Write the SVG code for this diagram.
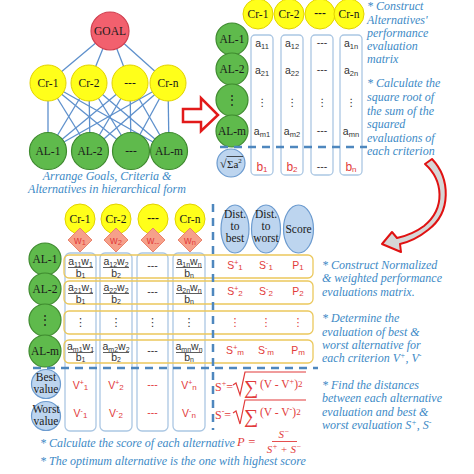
<svg xmlns="http://www.w3.org/2000/svg" width="474" height="474" viewBox="0 0 474 474">
<style>
.bt{font-family:"Liberation Serif",serif;font-style:italic;fill:#3d8ac6;font-size:12px}
.nl{font-family:"Liberation Serif",serif;font-size:11.5px;fill:#1a1a1a;text-anchor:middle}
.yel{fill:#ffff1a;stroke:#e2d200;stroke-width:1}
.grn{fill:#5fba4c;stroke:#3e8a2e;stroke-width:1.2}
.gl{fill:#f2606e;stroke:#cf3f4f;stroke-width:1.2}
.lb{fill:#bdd5ef;stroke:#6c9bcf;stroke-width:1.2}
.v{font-family:"Liberation Sans",sans-serif;font-size:10.5px;fill:#333;text-anchor:middle}
.r{fill:#e23b3b}
.col{fill:#fff;stroke:#abc7e3;stroke-width:1.3}
.row{fill:none;stroke:#ebc85c;stroke-width:1.3}
.dash{stroke:#4e87be;stroke-width:2.5;stroke-dasharray:8 6;fill:none}
.conn{stroke:#5e90cc;stroke-width:1.3}
.dia{fill:#f6a08a;stroke:#e9836c;stroke-width:1}
.fl{stroke:#333;stroke-width:0.8}
.rf{font-family:"Liberation Serif",serif;fill:#e23b3b}
</style>

<!-- connectors of hierarchy -->
<g id="connectors">
<line class="conn" x1="110" y1="31" x2="48" y2="83"/>
<line class="conn" x1="110" y1="31" x2="89" y2="83"/>
<line class="conn" x1="110" y1="31" x2="130" y2="83"/>
<line class="conn" x1="110" y1="31" x2="168" y2="83"/>
<line class="conn" x1="48" y1="83" x2="48" y2="151"/>
<line class="conn" x1="48" y1="83" x2="90" y2="151"/>
<line class="conn" x1="48" y1="83" x2="131" y2="151"/>
<line class="conn" x1="48" y1="83" x2="169" y2="151"/>
<line class="conn" x1="89" y1="83" x2="48" y2="151"/>
<line class="conn" x1="89" y1="83" x2="90" y2="151"/>
<line class="conn" x1="89" y1="83" x2="131" y2="151"/>
<line class="conn" x1="89" y1="83" x2="169" y2="151"/>
<line class="conn" x1="130" y1="83" x2="48" y2="151"/>
<line class="conn" x1="130" y1="83" x2="90" y2="151"/>
<line class="conn" x1="130" y1="83" x2="131" y2="151"/>
<line class="conn" x1="130" y1="83" x2="169" y2="151"/>
<line class="conn" x1="168" y1="83" x2="48" y2="151"/>
<line class="conn" x1="168" y1="83" x2="90" y2="151"/>
<line class="conn" x1="168" y1="83" x2="131" y2="151"/>
<line class="conn" x1="168" y1="83" x2="169" y2="151"/>
</g>

<!-- hierarchy nodes -->
<g id="goal"><circle class="gl" cx="110" cy="31" r="19"/><text class="nl" x="110" y="35" font-size="11">GOAL</text></g>
<g id="h-cr1"><circle class="yel" cx="48" cy="83" r="18"/><text class="nl" x="48" y="87">Cr-1</text></g>
<g id="h-cr2"><circle class="yel" cx="89" cy="83" r="18"/><text class="nl" x="89" y="87">Cr-2</text></g>
<g id="h-cr3"><circle class="yel" cx="130" cy="83" r="18"/><text class="nl" x="130" y="86">---</text></g>
<g id="h-crn"><circle class="yel" cx="168" cy="83" r="18"/><text class="nl" x="168" y="87">Cr-n</text></g>
<g id="h-al1"><circle class="grn" cx="48" cy="151" r="18.5"/><text class="nl" x="48" y="155">AL-1</text></g>
<g id="h-al2"><circle class="grn" cx="90" cy="151" r="18.5"/><text class="nl" x="90" y="155">AL-2</text></g>
<g id="h-al3"><circle class="grn" cx="131" cy="151" r="18.5"/><text class="nl" x="131" y="154">---</text></g>
<g id="h-alm"><circle class="grn" cx="169" cy="151" r="18.5"/><text class="nl" x="169" y="155">AL-m</text></g>
<text class="bt" x="107" y="180" text-anchor="middle" font-size="11.5">Arrange Goals, Criteria &amp;</text>
<text class="bt" x="107" y="193" text-anchor="middle" font-size="11.5">Alternatives in hierarchical form</text>

<!-- block arrow -->
<g id="arrow1"><path d="M183,109 H201 V98 L218,115 L201,131 V122 H183 Z" fill="#fff" stroke="#e21a1a" stroke-width="2.5" stroke-linejoin="miter"/></g>

<!-- top matrix -->
<g id="top-matrix">
<rect class="col" x="251" y="35" width="22" height="140" rx="4"/>
<rect class="col" x="281" y="35" width="22" height="140" rx="4"/>
<rect class="col" x="311" y="35" width="22" height="140" rx="4"/>
<rect class="col" x="340" y="35" width="22" height="140" rx="4"/>
</g>
<g id="t-cr1"><circle class="yel" cx="258" cy="14" r="15"/><text class="nl" x="258" y="18" font-size="11">Cr-1</text></g>
<g id="t-cr2"><circle class="yel" cx="289" cy="14" r="15"/><text class="nl" x="289" y="18" font-size="11">Cr-2</text></g>
<g id="t-cr3"><circle class="yel" cx="320" cy="14" r="15"/><text class="nl" x="320" y="17" font-size="11" font-weight="bold">---</text></g>
<g id="t-crn"><circle class="yel" cx="349" cy="14" r="15"/><text class="nl" x="349" y="18" font-size="11">Cr-n</text></g>
<g id="t-al1"><circle class="grn" cx="232" cy="39" r="16"/><text class="nl" x="232" y="43" font-size="11">AL-1</text></g>
<g id="t-al2"><circle class="grn" cx="232" cy="69" r="16"/><text class="nl" x="232" y="73" font-size="11">AL-2</text></g>
<g id="t-al3"><circle class="grn" cx="232" cy="100" r="16"/><text class="nl" x="232" y="104" font-family="DejaVu Sans">⋮</text></g>
<g id="t-alm"><circle class="grn" cx="232" cy="131" r="16"/><text class="nl" x="232" y="135" font-size="11">AL-m</text></g>
<g id="t-sqrt"><ellipse class="lb" cx="231" cy="163" rx="14" ry="14"/>
<text x="220" y="168" font-family="Liberation Serif,serif" font-size="12" fill="#222">√</text>
<line x1="226.5" y1="156.5" x2="243" y2="156.5" stroke="#222" stroke-width="0.8"/>
<text x="227" y="168" font-family="Liberation Serif,serif" font-size="11" fill="#222">Σa<tspan font-size="7" dy="-5">2</tspan></text></g>

<g id="top-values" class="v">
<text x="262" y="47">a<tspan font-size="7.5" dy="2">11</tspan></text>
<text x="292" y="47">a<tspan font-size="7.5" dy="2">12</tspan></text>
<text x="322" y="46">---</text>
<text x="351" y="47">a<tspan font-size="7.5" dy="2">1n</tspan></text>
<text x="262" y="74">a<tspan font-size="7.5" dy="2">21</tspan></text>
<text x="292" y="74">a<tspan font-size="7.5" dy="2">22</tspan></text>
<text x="322" y="73">---</text>
<text x="351" y="74">a<tspan font-size="7.5" dy="2">2n</tspan></text>
<text x="262" y="106" font-family="DejaVu Sans">⋮</text>
<text x="292" y="106" font-family="DejaVu Sans">⋮</text>
<text x="322" y="106" font-family="DejaVu Sans">⋮</text>
<text x="351" y="106" font-family="DejaVu Sans">⋮</text>
<text x="262" y="135">a<tspan font-size="7.5" dy="2">m1</tspan></text>
<text x="292" y="135">a<tspan font-size="7.5" dy="2">m2</tspan></text>
<text x="322" y="134">---</text>
<text x="351" y="135">a<tspan font-size="7.5" dy="2">mn</tspan></text>
<text class="r" x="262" y="171" font-size="12">b<tspan font-size="8" dy="1">1</tspan></text>
<text class="r" x="292" y="171" font-size="12">b<tspan font-size="8" dy="1">2</tspan></text>
<text x="322" y="170">---</text>
<text class="r" x="351" y="171" font-size="12">b<tspan font-size="8" dy="1">n</tspan></text>
</g>
<line class="dash" x1="220" y1="147" x2="367" y2="147"/>

<g id="text-top">
<text class="bt" x="367" y="10">* Construct</text>
<text class="bt" x="367" y="24">Alternatives'</text>
<text class="bt" x="367" y="37">performance</text>
<text class="bt" x="367" y="50">evaluation</text>
<text class="bt" x="367" y="63">matrix</text>
<text class="bt" x="367" y="87">* Calculate the</text>
<text class="bt" x="367" y="101">square root of</text>
<text class="bt" x="367" y="115">the sum of the</text>
<text class="bt" x="367" y="128">squared</text>
<text class="bt" x="367" y="142">evaluations of</text>
<text class="bt" x="367" y="155">each criterion</text>
</g>

<!-- curved arrow -->
<g id="arrow2"><path d="M432,159 C450,178 452,212 428,230 C418,238 409,242 400,244 L401,252 L382,244 L392,232 L397,238 C406,236 416,232 424,226 C446,208 443,180 425,164 Z" fill="#d6d6d6" stroke="#e01212" stroke-width="2" stroke-linejoin="round"/></g>

<!-- lower matrix -->
<g id="low-cols">
<rect class="col" x="65" y="253" width="31" height="178" rx="5"/>
<rect class="col" x="100" y="253" width="32" height="178" rx="5"/>
<rect class="col" x="137" y="253" width="31" height="178" rx="5"/>
<rect class="col" x="173" y="253" width="32" height="178" rx="5"/>
</g>
<g id="low-rows">
<rect class="row" x="64" y="255" width="249" height="23" rx="5"/>
<rect class="row" x="64" y="281" width="249" height="23" rx="5"/>
<rect class="row" x="64" y="311" width="249" height="23" rx="5"/>
<rect class="row" x="64" y="340" width="249" height="23" rx="5"/>
</g>
<g id="l-cr1"><circle class="yel" cx="80" cy="219" r="15"/><text class="nl" x="80" y="223" font-size="11">Cr-1</text><path class="dia" d="M80,228 L92,240 L80,252 L68,240 Z"/><text class="v r" x="80" y="244">w<tspan font-size="7.5" dy="1">1</tspan></text></g>
<g id="l-cr2"><circle class="yel" cx="116" cy="219" r="15"/><text class="nl" x="116" y="223" font-size="11">Cr-2</text><path class="dia" d="M116,228 L128,240 L116,252 L104,240 Z"/><text class="v r" x="116" y="244">w<tspan font-size="7.5" dy="1">2</tspan></text></g>
<g id="l-cr3"><circle class="yel" cx="153" cy="219" r="15"/><text class="nl" x="153" y="222" font-size="11" font-weight="bold">---</text><path class="dia" d="M153,228 L165,240 L153,252 L141,240 Z"/><text class="v r" x="153" y="244">w<tspan font-size="7.5" dy="1">--</tspan></text></g>
<g id="l-crn"><circle class="yel" cx="190" cy="219" r="15"/><text class="nl" x="190" y="223" font-size="11">Cr-n</text><path class="dia" d="M190,228 L202,240 L190,252 L178,240 Z"/><text class="v r" x="190" y="244">w<tspan font-size="7.5" dy="1">n</tspan></text></g>
<g id="l-al1"><circle class="grn" cx="45" cy="259" r="16"/><text class="nl" x="45" y="263" font-size="11">AL-1</text></g>
<g id="l-al2"><circle class="grn" cx="45" cy="289" r="16"/><text class="nl" x="45" y="293" font-size="11">AL-2</text></g>
<g id="l-al3"><circle class="grn" cx="45" cy="320" r="16"/><text class="nl" x="45" y="324" font-family="DejaVu Sans">⋮</text></g>
<g id="l-alm"><circle class="grn" cx="45" cy="351" r="16"/><text class="nl" x="45" y="355" font-size="11">AL-m</text></g>
<g id="l-best"><circle class="lb" cx="46" cy="384" r="14.5"/><text class="nl" x="46" y="381" font-size="11">Best</text><text class="nl" x="46" y="393" font-size="11">value</text></g>
<g id="l-worst"><circle class="lb" cx="46" cy="416" r="14.5"/><text class="nl" x="46" y="413" font-size="11">Worst</text><text class="nl" x="46" y="425" font-size="11">value</text></g>
<g id="l-dbest"><ellipse class="lb" cx="235" cy="229" rx="14" ry="24"/><text class="nl" x="235" y="218" font-size="11">Dist.</text><text class="nl" x="235" y="230" font-size="11">to</text><text class="nl" x="235" y="242" font-size="11">best</text></g>
<g id="l-dworst"><ellipse class="lb" cx="266" cy="229" rx="14.5" ry="24"/><text class="nl" x="266" y="218" font-size="11">Dist.</text><text class="nl" x="266" y="230" font-size="11">to</text><text class="nl" x="266" y="242" font-size="11">worst</text></g>
<g id="l-score"><ellipse class="lb" cx="298.5" cy="229" rx="15" ry="24"/><text class="nl" x="298.5" y="233" font-size="11">Score</text></g>

<g id="low-values" class="v" font-size="10">
<text x="80.5" y="265">a<tspan font-size="7" dy="1.5">11</tspan><tspan dy="-1.5">w</tspan><tspan font-size="7" dy="1.5">1</tspan></text>
<text x="116" y="265">a<tspan font-size="7" dy="1.5">12</tspan><tspan dy="-1.5">w</tspan><tspan font-size="7" dy="1.5">2</tspan></text>
<text x="152.5" y="269">---</text>
<text x="189" y="265">a<tspan font-size="7" dy="1.5">1n</tspan><tspan dy="-1.5">w</tspan><tspan font-size="7" dy="1.5">n</tspan></text>
<text x="80.5" y="277">b<tspan font-size="7" dy="1">1</tspan></text>
<text x="116" y="277">b<tspan font-size="7" dy="1">2</tspan></text>
<text x="189" y="277">b<tspan font-size="7" dy="1">n</tspan></text>
<text x="80.5" y="291">a<tspan font-size="7" dy="1.5">21</tspan><tspan dy="-1.5">w</tspan><tspan font-size="7" dy="1.5">1</tspan></text>
<text x="116" y="291">a<tspan font-size="7" dy="1.5">22</tspan><tspan dy="-1.5">w</tspan><tspan font-size="7" dy="1.5">2</tspan></text>
<text x="152.5" y="295">---</text>
<text x="189" y="291">a<tspan font-size="7" dy="1.5">2n</tspan><tspan dy="-1.5">w</tspan><tspan font-size="7" dy="1.5">n</tspan></text>
<text x="80.5" y="303">b<tspan font-size="7" dy="1">1</tspan></text>
<text x="116" y="303">b<tspan font-size="7" dy="1">2</tspan></text>
<text x="189" y="303">b<tspan font-size="7" dy="1">n</tspan></text>
<text x="80.5" y="326" font-family="DejaVu Sans" font-size="11">⋮</text>
<text x="116" y="326" font-family="DejaVu Sans" font-size="11">⋮</text>
<text x="152.5" y="326" font-family="DejaVu Sans" font-size="11">⋮</text>
<text x="189" y="326" font-family="DejaVu Sans" font-size="11">⋮</text>
<text x="80.5" y="350">a<tspan font-size="7" dy="1.5">m1</tspan><tspan dy="-1.5">w</tspan><tspan font-size="7" dy="1.5">1</tspan></text>
<text x="116" y="350">a<tspan font-size="7" dy="1.5">m2</tspan><tspan dy="-1.5">w</tspan><tspan font-size="7" dy="1.5">2</tspan></text>
<text x="152.5" y="354">---</text>
<text x="189" y="350">a<tspan font-size="7" dy="1.5">mn</tspan><tspan dy="-1.5">w</tspan><tspan font-size="7" dy="1.5">n</tspan></text>
<text x="80.5" y="361">b<tspan font-size="7" dy="1">1</tspan></text>
<text x="116" y="361">b<tspan font-size="7" dy="1">2</tspan></text>
<text x="189" y="361">b<tspan font-size="7" dy="1">n</tspan></text>
<line class="fl" x1="68" y1="267.5" x2="93" y2="267.5"/>
<line class="fl" x1="103" y1="267.5" x2="129" y2="267.5"/>
<line class="fl" x1="176" y1="267.5" x2="202" y2="267.5"/>
<line class="fl" x1="68" y1="293.5" x2="93" y2="293.5"/>
<line class="fl" x1="103" y1="293.5" x2="129" y2="293.5"/>
<line class="fl" x1="176" y1="293.5" x2="202" y2="293.5"/>
<line class="fl" x1="68" y1="352.5" x2="93" y2="352.5"/>
<line class="fl" x1="103" y1="352.5" x2="129" y2="352.5"/>
<line class="fl" x1="176" y1="352.5" x2="202" y2="352.5"/>
<g class="r">
<text x="235" y="269">S<tspan font-size="7" dy="-4">+</tspan><tspan font-size="8" dy="5">1</tspan></text>
<text x="266" y="269">S<tspan font-size="7" dy="-4">-</tspan><tspan font-size="8" dy="5">1</tspan></text>
<text x="298" y="269">P<tspan font-size="8" dy="1">1</tspan></text>
<text x="235" y="295">S<tspan font-size="7" dy="-4">+</tspan><tspan font-size="8" dy="5">2</tspan></text>
<text x="266" y="295">S<tspan font-size="7" dy="-4">-</tspan><tspan font-size="8" dy="5">2</tspan></text>
<text x="298" y="295">P<tspan font-size="8" dy="1">2</tspan></text>
<text x="235" y="326" font-family="DejaVu Sans" font-size="11">⋮</text>
<text x="266" y="326" font-family="DejaVu Sans" font-size="11">⋮</text>
<text x="298" y="326" font-family="DejaVu Sans" font-size="11">⋮</text>
<text x="235" y="354">S<tspan font-size="7" dy="-4">+</tspan><tspan font-size="8" dy="5">m</tspan></text>
<text x="266" y="354">S<tspan font-size="7" dy="-4">-</tspan><tspan font-size="8" dy="5">m</tspan></text>
<text x="298" y="354">P<tspan font-size="8" dy="1">m</tspan></text>
<text x="80.5" y="389">V<tspan font-size="7" dy="-4">+</tspan><tspan font-size="8" dy="5">1</tspan></text>
<text x="116" y="389">V<tspan font-size="7" dy="-4">+</tspan><tspan font-size="8" dy="5">2</tspan></text>
<text x="152.5" y="388">---</text>
<text x="189" y="389">V<tspan font-size="7" dy="-4">+</tspan><tspan font-size="8" dy="5">n</tspan></text>
<text x="80.5" y="417">V<tspan font-size="7" dy="-4">-</tspan><tspan font-size="8" dy="5">1</tspan></text>
<text x="116" y="417">V<tspan font-size="7" dy="-4">-</tspan><tspan font-size="8" dy="5">2</tspan></text>
<text x="152.5" y="416">---</text>
<text x="189" y="417">V<tspan font-size="7" dy="-4">-</tspan><tspan font-size="8" dy="5">n</tspan></text>
</g>
</g>

<line class="dash" x1="213" y1="204" x2="213" y2="430"/>
<line class="dash" x1="33" y1="368" x2="318" y2="368"/>

<!-- formulas -->
<g id="formulas">
<text class="rf" x="215" y="391" font-size="12">S<tspan font-size="8" dy="-5">+</tspan><tspan dy="5">=</tspan></text>
<path d="M233,385 L236,383 L240,395 L245,372 H306" fill="none" stroke="#e23b3b" stroke-width="1.2"/>
<text class="rf" x="244" y="394" font-size="20">∑</text>
<text class="rf" x="260" y="388" font-size="11.5">(V - V<tspan font-size="8" dy="-4">+</tspan><tspan dy="4">)</tspan><tspan font-size="9" dy="-1">2</tspan></text>
<text class="rf" x="215" y="419" font-size="12">S<tspan font-size="8" dy="-5">-</tspan><tspan dy="5">=</tspan></text>
<path d="M233,413 L236,411 L240,424 L245,400 H306" fill="none" stroke="#e23b3b" stroke-width="1.2"/>
<text class="rf" x="244" y="423" font-size="20">∑</text>
<text class="rf" x="260" y="416" font-size="11.5">(V - V<tspan font-size="8" dy="-4">-</tspan><tspan dy="4">)</tspan><tspan font-size="9" dy="-1">2</tspan></text>
<text class="rf" x="237" y="446" font-size="12.5" font-style="italic">P =</text>
<text class="rf" x="284" y="438" font-size="11" font-style="italic" text-anchor="middle">S<tspan font-size="8" dy="-4">−</tspan></text>
<line x1="272" y1="441.5" x2="297" y2="441.5" stroke="#e23b3b" stroke-width="0.9"/>
<text class="rf" x="284" y="453" font-size="11" font-style="italic" text-anchor="middle">S<tspan font-size="8" dy="-4">+</tspan><tspan dy="4"> + S</tspan><tspan font-size="8" dy="-4">−</tspan></text>
</g>

<g id="text-low">
<text class="bt" x="322" y="269">* Construct Normalized</text>
<text class="bt" x="322" y="282">&amp; weighted performance</text>
<text class="bt" x="322" y="296">evaluations matrix.</text>
<text class="bt" x="322" y="322">* Determine the</text>
<text class="bt" x="322" y="336">evaluation of best &amp;</text>
<text class="bt" x="322" y="349">worst alternative for</text>
<text class="bt" x="322" y="362">each criterion V<tspan font-size="8" dy="-4">+</tspan><tspan dy="4">, V</tspan><tspan font-size="8" dy="-4">-</tspan></text>
<text class="bt" x="322" y="389">* Find the distances</text>
<text class="bt" x="322" y="402">between each alternative</text>
<text class="bt" x="322" y="416">evaluation and best &amp;</text>
<text class="bt" x="322" y="429">worst evaluation S<tspan font-size="8" dy="-4">+</tspan><tspan dy="4">, S</tspan><tspan font-size="8" dy="-4">-</tspan></text>
<text class="bt" x="40" y="447" font-size="10.3">* Calculate the score of each alternative</text>
<text class="bt" x="40" y="465" font-size="10.5">* The optimum alternative is the one with highest score</text>
</g>
</svg>
